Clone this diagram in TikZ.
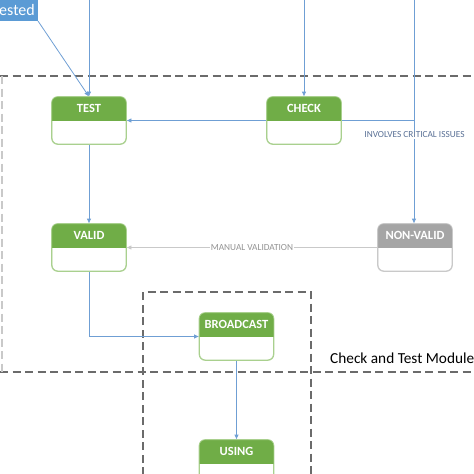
\documentclass[tikz,border=0pt]{standalone}
\usepackage{fontspec}
\setmainfont{Carlito}
\usetikzlibrary{arrows.meta,calc}
\definecolor{hgreen}{HTML}{70AD47}
\definecolor{lgreen}{HTML}{A9D08E}
\definecolor{hgray}{HTML}{A5A5A5}
\definecolor{lgray}{HTML}{C9C9C9}
\definecolor{arrblue}{HTML}{6F9FD4}
\definecolor{sblue}{HTML}{5B9BD5}
\definecolor{frame}{HTML}{6B6B6B}
\definecolor{lbltext}{HTML}{5A7196}
\tikzset{
  boxshape/.style={rectangle, minimum width=74pt, minimum height=47pt, inner sep=0pt, rounded corners=6pt, line width=0.8pt},
  headtext/.style={font=\bfseries\fontsize{12.5}{14}\selectfont, text=white, inner sep=0pt},
  arr/.style={draw=arrblue, line width=0.8pt, -{Latex[length=5pt,width=4.5pt]}},
  grayarr/.style={draw=lgray, line width=0.8pt, -{Latex[length=5pt,width=4.5pt]}},
  frameline/.style={draw=frame, line width=1.1pt, dash pattern=on 8pt off 4.5pt},
  lightframe/.style={draw=lgray, line width=1.1pt, dash pattern=on 8pt off 4.5pt},
  smalllbl/.style={font=\fontsize{9.3}{11}\selectfont, fill=white, inner sep=1pt},
}
\newcommand{\stbox}[5]{%
  \node[boxshape, draw=#5, fill=white] (#1) at (#2,#3) {};
  \begin{scope}
    \clip[rounded corners=6pt] (#1.south west) rectangle (#1.north east);
    \fill[#4] (#1.north west) rectangle ([yshift=-24pt]#1.north east);
  \end{scope}
  \draw[#5, line width=0.8pt, rounded corners=6pt] (#1.south west) rectangle (#1.north east);
}
\begin{document}
\begin{tikzpicture}[x=1pt,y=-1pt]
\useasboundingbox (0,0) rectangle (474,474);
\clip (0,0) rectangle (474,474);
% frames
\draw[frameline] (0,76) -- (480,76);
\draw[frameline] (0,372) -- (480,372);
\draw[lightframe] (2,76) -- (2,372);
\draw[frameline] (143,500) -- (143,292) -- (311,292) -- (311,500);
% coordinates
\coordinate (in1) at (89,0);
\coordinate (in2) at (304,0);
\coordinate (in3) at (414,0);
% suggestion box
\node[fill=sblue, text=white, font=\fontsize{16}{18}\selectfont, anchor=south east, minimum height=21pt, inner sep=3pt] (sugg) at (38,21) {ested};
% state nodes (positions)
\path (89,120.5) coordinate (testc) (304,120.5) coordinate (checkc)
      (89,247.5) coordinate (validc) (415,247.5) coordinate (nonvalidc)
      (236.5,336.5) coordinate (broadcastc) (236.5,463.5) coordinate (usingc);
\node[boxshape] (test) at (testc) {};
\node[boxshape] (check) at (checkc) {};
\node[boxshape] (valid) at (validc) {};
\node[boxshape] (nonvalid) at (nonvalidc) {};
\node[boxshape] (broadcast) at (broadcastc) {};
\node[boxshape] (using) at (usingc) {};
% connectors
\draw[arr] (sugg.south east) -- (test.north);
\draw[arr] (in1) -- (test.north);
\draw[arr] (in2) -- (check.north);
\draw[arr] (in3) -- (in3 |- nonvalid.north);
\draw[arr] (in3 |- test.east) -- (test.east);
\draw[arr] (test.south) -- (valid.north);
\draw[grayarr] (nonvalid.west) -- (valid.east);
\draw[arr] (valid.south) |- (broadcast.west);
\draw[arr] (broadcast.south) -- (using.north);
\node[smalllbl, text=lbltext] (crit) at (414.5,135) {INVOLVES CRITICAL ISSUES};
\node[smalllbl, text=gray!85] (manual) at (252,248) {MANUAL VALIDATION};
% boxes
\stbox{test}{89}{120.5}{hgreen}{lgreen}
\stbox{check}{304}{120.5}{hgreen}{lgreen}
\stbox{valid}{89}{247.5}{hgreen}{lgreen}
\stbox{nonvalid}{415}{247.5}{hgray}{lgray}
\stbox{broadcast}{236.5}{336.5}{hgreen}{lgreen}
\stbox{using}{236.5}{463.5}{hgreen}{lgreen}
\node[headtext] (testl) at ([yshift=-12pt]test.north) {TEST};
\node[headtext] (checkl) at ([yshift=-12pt]check.north) {CHECK};
\node[headtext] (validl) at ([yshift=-12pt]valid.north) {VALID};
\node[headtext] (nonvalidl) at ([yshift=-12pt]nonvalid.north) {NON-VALID};
\node[headtext] (broadcastl) at ([yshift=-12pt]broadcast.north) {BROADCAST};
\node[headtext] (usingl) at ([yshift=-12pt]using.north) {USING};
% module label
\node[font=\fontsize{15.3}{17}\selectfont, anchor=west, inner sep=0pt] (modlbl) at (330,358) {Check and Test Module};
\end{tikzpicture}
\end{document}
